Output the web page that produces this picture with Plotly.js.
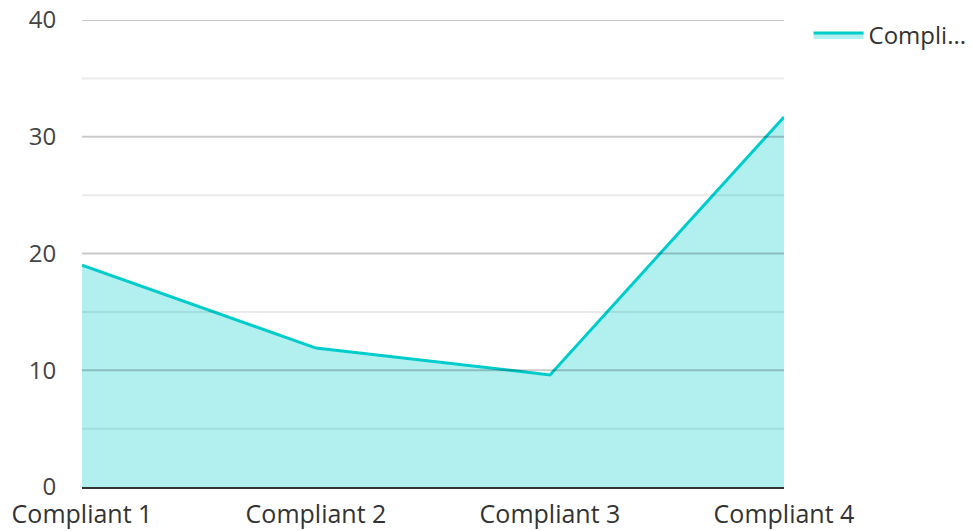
<!DOCTYPE html>
<html>
<head>
<meta charset="utf-8">
<script src="https://cdn.plot.ly/plotly-3.0.1.min.js"></script>
<style>html,body{margin:0;padding:0;background:#fff;}#chart{width:973px;height:531px;}</style>
</head>
<body>
<div id="chart"></div>
<script>
const categories = ["Compliant 1", "Compliant 2", "Compliant 3", "Compliant 4"];
const values = [19.0, 11.9, 9.6, 31.7];
const seriesName = "Compli...";
const yTicks = [0, 10, 20, 30, 40];
const yMinorTicks = [5, 15, 25, 35];

const trace = {
  x: categories,
  y: values,
  name: seriesName,
  type: 'scatter',
  mode: 'lines',
  fill: 'tozeroy',
  fillcolor: 'rgba(0,204,204,0.30)',
  line: {color: '#00cccc', width: 3},
  showlegend: true
};

const gridShapes = [];
yTicks.filter(v => v !== 0).forEach(v => gridShapes.push({
  type: 'line', xref: 'paper', x0: 0, x1: 1, yref: 'y', y0: v, y1: v,
  line: {color: 'rgba(0,0,0,0.21)', width: 2}, layer: 'above'
}));
yMinorTicks.forEach(v => gridShapes.push({
  type: 'line', xref: 'paper', x0: 0, x1: 1, yref: 'y', y0: v, y1: v,
  line: {color: 'rgba(0,0,0,0.08)', width: 2}, layer: 'above'
}));

const layout = {
  width: 973,
  height: 531,
  margin: {l: 82, r: 189, t: 20, b: 44, autoexpand: false},
  paper_bgcolor: '#ffffff',
  plot_bgcolor: '#ffffff',
  font: {family: 'Open Sans, sans-serif', size: 24, color: '#444444'},
  showlegend: true,
  legend: {
    x: 1.035, y: 1.015, xanchor: 'left', yanchor: 'top',
    font: {family: 'Open Sans, sans-serif', size: 24, color: '#333333'},
    itemwidth: 50,
    bgcolor: 'rgba(0,0,0,0)'
  },
  shapes: gridShapes,
  xaxis: {
    type: 'category',
    range: [0, 3],
    showgrid: false,
    zeroline: false,
    showline: true,
    linecolor: '#333333',
    linewidth: 2,
    layer: 'above traces',
    ticks: 'outside',
    ticklen: 4,
    tickcolor: 'rgba(0,0,0,0)',
    tickfont: {size: 25, color: '#333333'},
    fixedrange: true
  },
  yaxis: {
    range: [0, 40],
    tickvals: yTicks,
    ticktext: yTicks.map(String),
    showgrid: false,
    zeroline: false,
    showline: false,
    ticks: 'outside',
    ticklen: 20,
    tickcolor: 'rgba(0,0,0,0)',
    tickfont: {size: 24, color: '#444444'},
    fixedrange: true
  }
};

Plotly.newPlot('chart', [trace], layout, {displayModeBar: false, staticPlot: true});
</script>
</body>
</html>
